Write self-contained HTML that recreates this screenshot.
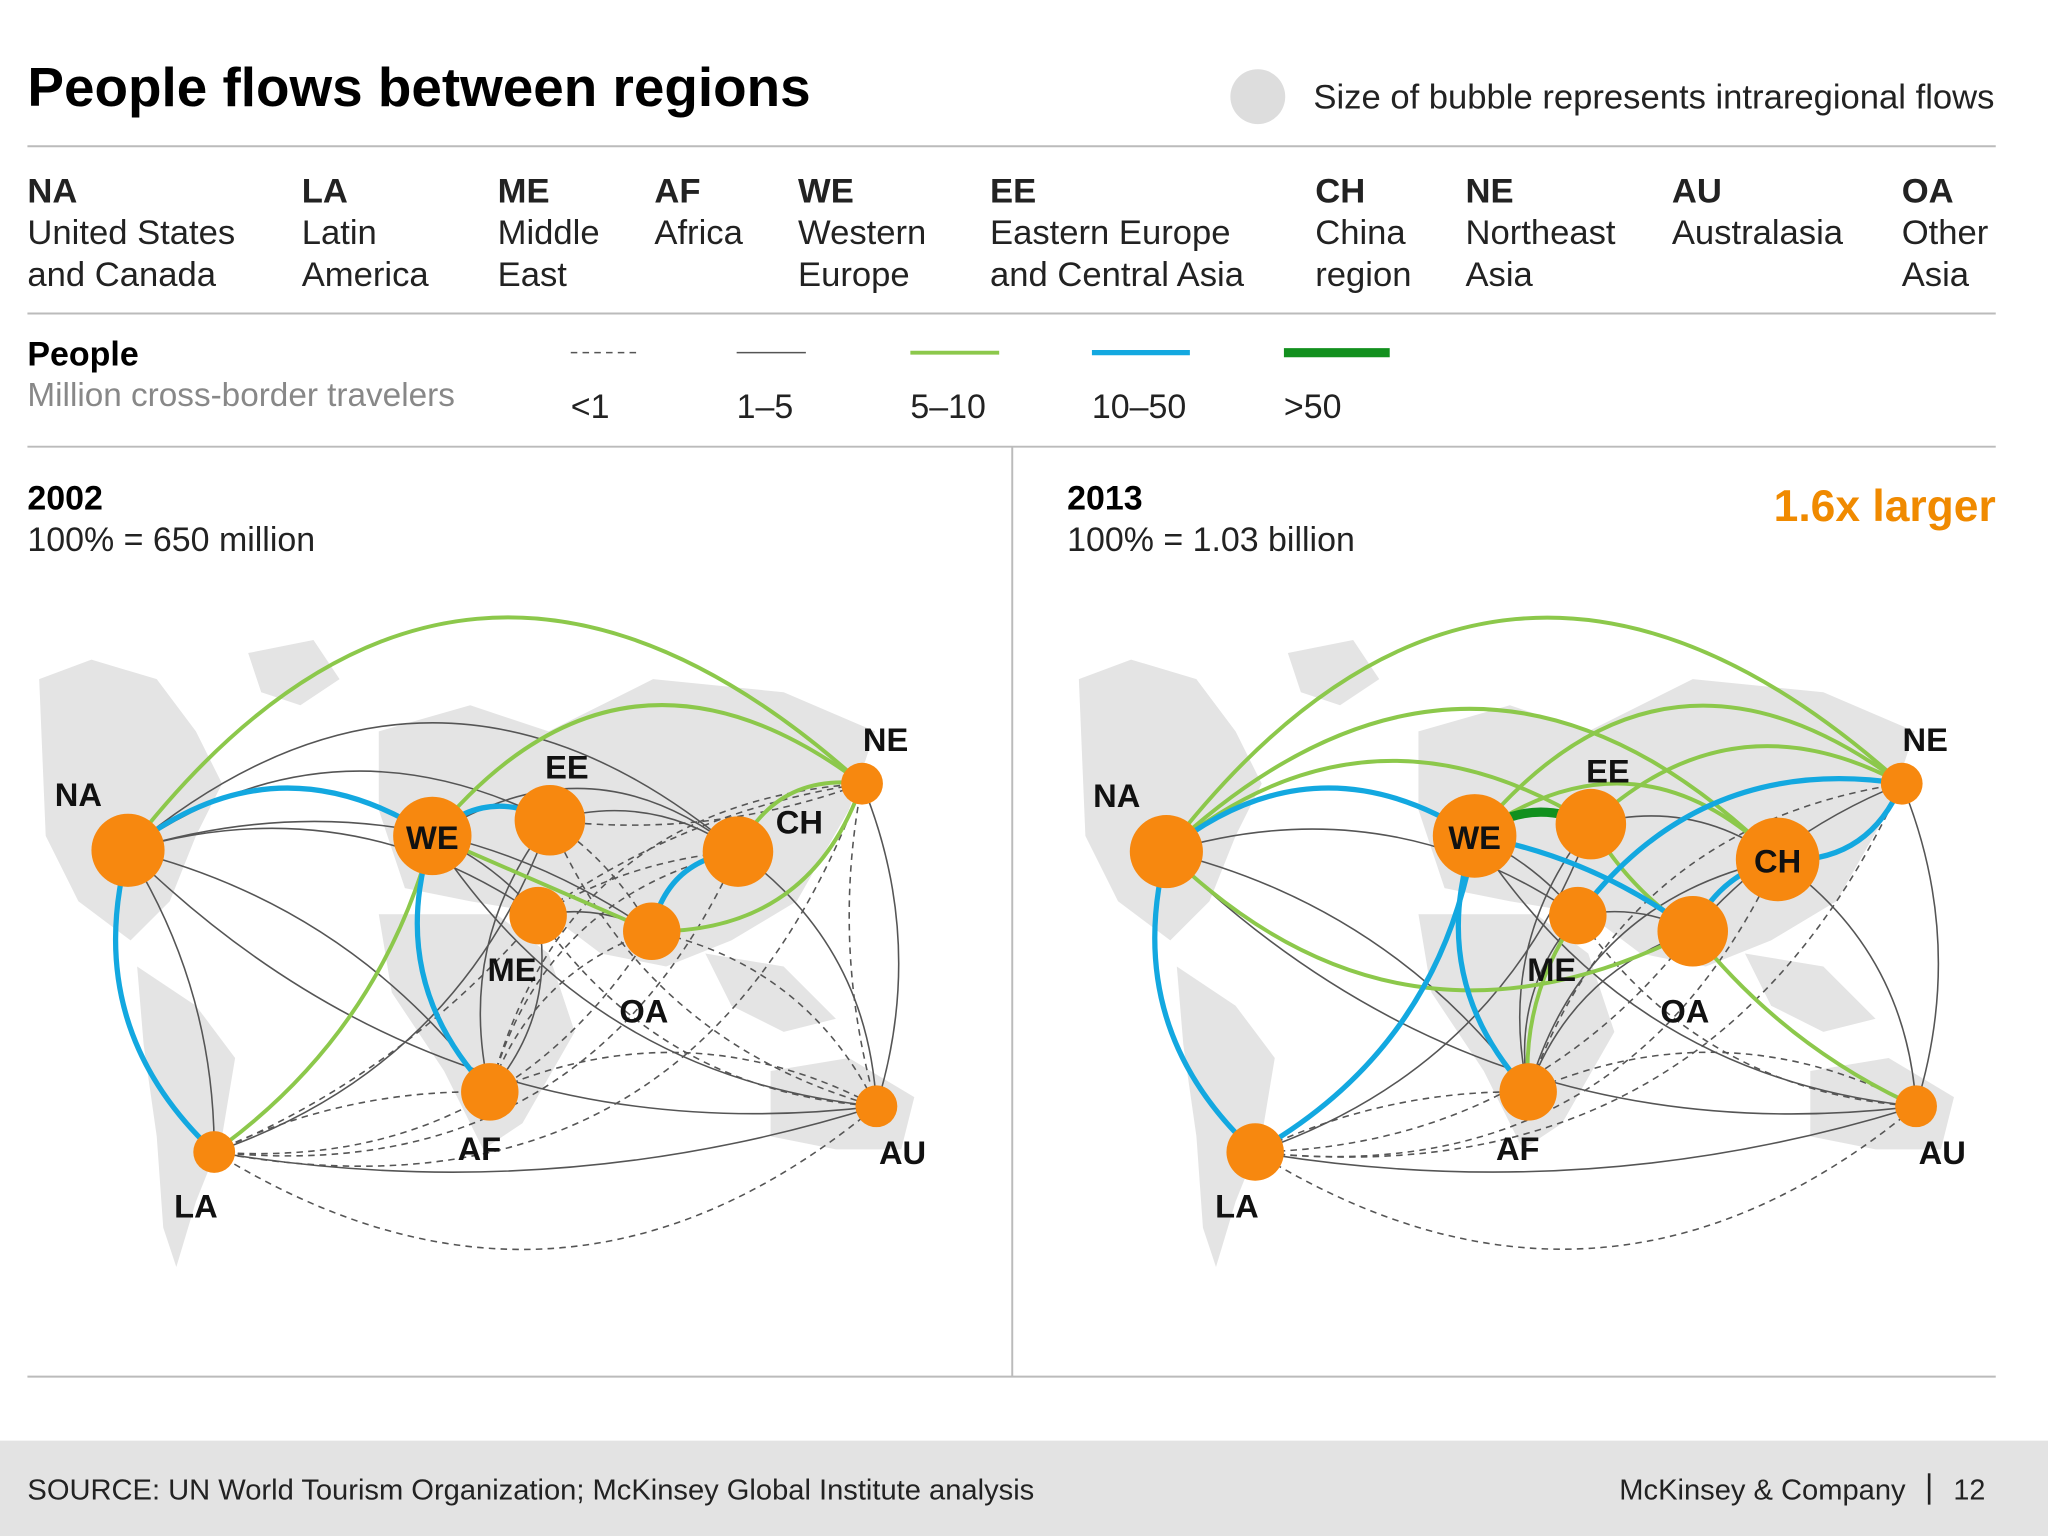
<!DOCTYPE html>
<html><head><meta charset="utf-8"><style>
html,body{margin:0;padding:0;background:#fff}
svg{display:block}
text{font-family:"Liberation Sans",Arial,sans-serif}
</style></head><body>
<svg id="chart" width="2048" height="1536" viewBox="0 0 1568 1176" xmlns="http://www.w3.org/2000/svg">
<text x="21" y="81" font-size="42" font-weight="bold" fill="#000">People flows between regions</text>
<circle cx="963" cy="74" r="21" fill="#ddd"/>
<text x="1527" y="83" font-size="26.5" text-anchor="end" fill="#222">Size of bubble represents intraregional flows</text>
<line x1="21" y1="112" x2="1528" y2="112" stroke="#bbb" stroke-width="1.5"/>
<g id="regions" font-size="26.5" fill="#222"></g>
<line x1="21" y1="240" x2="1528" y2="240" stroke="#bbb" stroke-width="1.5"/>
<text x="21" y="280" font-size="26" font-weight="bold">People</text>
<text x="21" y="311" font-size="25.5" fill="#888">Million cross-border travelers</text>
<g id="legend"></g>
<line x1="21" y1="342" x2="1528" y2="342" stroke="#bbb" stroke-width="1.5"/>
<line x1="775" y1="342" x2="775" y2="1054" stroke="#bbb" stroke-width="1.5"/>
<line x1="21" y1="1054" x2="1528" y2="1054" stroke="#bbb" stroke-width="1.5"/>
<text x="21" y="390" font-size="26" font-weight="bold">2002</text>
<text x="21" y="422" font-size="26" fill="#222">100% = 650 million</text>
<text x="817" y="390" font-size="26" font-weight="bold">2013</text>
<text x="817" y="422" font-size="26" fill="#222">100% = 1.03 billion</text>
<text x="1528" y="399" font-size="34" font-weight="bold" fill="#f08a00" text-anchor="end">1.6x larger</text>
<g id="map2002"></g>
<g id="map2013"></g>
<rect x="0" y="1103" width="1568" height="73" fill="#e3e3e3"/>
<text x="21" y="1148" font-size="22.3" fill="#222">SOURCE: UN World Tourism Organization; McKinsey Global Institute analysis</text>
<text x="1459" y="1148" font-size="22.3" fill="#222" text-anchor="end">McKinsey &amp; Company</text>
<line x1="1477" y1="1128" x2="1477" y2="1152" stroke="#222" stroke-width="2"/>
<text x="1520" y="1148" font-size="22" fill="#222" text-anchor="end">12</text>
</svg>
<script>
const NS="http://www.w3.org/2000/svg";
function mk(tag,attrs,parent){const e=document.createElementNS(NS,tag);for(const k in attrs)e.setAttribute(k,attrs[k]);parent.appendChild(e);return e;}

const regionCodes=["NA","LA","ME","AF","WE","EE","CH","NE","AU","OA"];
const regionNames=[["United States","and Canada"],["Latin","America"],["Middle","East"],["Africa"],["Western","Europe"],["Eastern Europe","and Central Asia"],["China","region"],["Northeast","Asia"],["Australasia"],["Other","Asia"]];
const regionX=[21,231,381,501,611,758,1007,1122,1280,1456];
const rg=document.getElementById('regions');
regionCodes.forEach((c,i)=>{
  const t=mk('text',{x:regionX[i],y:155,'font-weight':'bold'},rg);t.textContent=c;
  
  
  regionNames[i].forEach((n,j)=>{const s=mk('text',{x:regionX[i],y:187+j*32},rg);s.textContent=n;
    
    });
});

const catLabels=["<1","1–5","5–10","10–50",">50"];
const catStyle=[{stroke:"#555",w:1.2,dash:"5 4"},{stroke:"#555",w:1.2,dash:""},{stroke:"#8cc84b",w:3,dash:""},{stroke:"#13a8e0",w:4,dash:""},{stroke:"#12901e",w:7,dash:""}];
const legX=[437,564,697,836,983];
const lg=document.getElementById('legend');
catLabels.forEach((l,i)=>{
  const s=catStyle[i];
  const ln=mk('line',{x1:legX[i],y1:270,x2:legX[i]+(i<2?53:i==2?68:i==3?75:81),y2:270,stroke:s.stroke,'stroke-width':s.w,'stroke-dasharray':s.dash},lg);
  
  
  const t=mk('text',{x:legX[i],y:320,'font-size':26,fill:'#222'},lg);t.textContent=l;
  
  
});

const nodes2002={NA:[98,651,28],LA:[164,882,16],WE:[331,640,30],EE:[421,628,27],ME:[412,701,22],OA:[499,713,22],CH:[565,652,27],NE:[660,600,16],AF:[375,836,22],AU:[671,847,16]};
const nodes2013={NA:[893,652,28],LA:[961,882,22],WE:[1129,640,32],EE:[1218,631,27],ME:[1208,701,22],OA:[1296,713,27],CH:[1361,658,32],NE:[1456,600,16],AF:[1170,836,22],AU:[1467,847,16]};
const labelOff={NA:[-38,-34],LA:[-14,50],WE:[0,12],EE:[13,-32],ME:[-20,50],OA:[-6,70],CH:[47,-14],NE:[18,-25],AF:[-8,52],AU:[20,44]};
// flows: [from,to,category,bend]
const flows2002=[
 ["LA","NA",3,0.25],["NA","WE",3,0.3],["WE","AF",3,-0.25],["WE","EE",3,0.3],["OA","CH",3,0.3],
 ["NA","NE",2,0.45],["WE","NE",2,0.4],["WE","OA",2,0],["LA","WE",2,-0.15],["OA","NE",2,-0.3],["CH","NE",2,0.3],
 ["NA","CH",1,0.35],["NA","EE",1,0.25],["NA","ME",1,0.2],["NA","OA",1,0.2],["NA","AF",1,0.15],["NA","AU",1,-0.2],["NA","LA",1,0.12],["WE","CH",1,0.3],["WE","ME",1,0.1],["EE","CH",1,0.2],["WE","AU",1,-0.2],["ME","OA",1,0.15],["LA","AU",1,-0.1],["EE","AF",1,-0.2],["ME","AF",1,0.2],["NE","AU",1,0.15],["CH","AU",1,0.2],["LA","EE",1,-0.2],
 ["LA","ME",0,-0.1],["LA","OA",0,-0.25],["LA","CH",0,-0.3],["LA","NE",0,-0.35],["LA","AF",0,0.1],["AF","OA",0,0.2],["AF","CH",0,0.25],["AF","NE",0,0.3],["AF","AU",0,0.2],["EE","NE",0,-0.1],["EE","OA",0,0.1],["ME","NE",0,0.1],["ME","AU",0,-0.2],["OA","AU",0,0.2],["EE","AU",0,-0.2],["ME","CH",0,0.1],["NE","AU",0,-0.1],["LA","AU",0,-0.3]
];
const flows2013=[
 ["LA","NA",3,0.25],["NA","WE",3,0.3],["WE","AF",3,-0.25],["WE","OA",3,0.1],["LA","WE",3,-0.2],["CH","NE",3,-0.3],["OA","CH",3,0.2],["ME","NE",3,0.25],
 ["WE","EE",4,0.25],
 ["NA","NE",2,0.45],["NA","CH",2,0.4],["NA","EE",2,0.3],["NA","OA",2,-0.3],["WE","CH",2,0.35],["EE","NE",2,0.3],["OA","AU",2,-0.1],["AF","ME",2,0.15],["WE","NE",2,0.4],["EE","OA",2,-0.1],
 ["NA","ME",1,0.2],["NA","AF",1,0.15],["NA","AU",1,-0.2],["LA","EE",1,-0.2],["WE","ME",1,0.1],["EE","CH",1,0.2],["WE","AU",1,-0.2],["ME","OA",1,0.15],["LA","AU",1,-0.1],["ME","AF",1,-0.2],["NE","AU",1,0.15],["CH","AU",1,0.2],["AF","CH",1,0.25],["AF","OA",1,0.2],["EE","AF",1,-0.2],["OA","NE",1,0.1],
 ["LA","OA",0,-0.2],["LA","NE",0,-0.3],["LA","AF",0,0.1],["AF","AU",0,0.2],["ME","AU",0,-0.2],["LA","AU",0,-0.3],["AF","NE",0,0.25],["LA","CH",0,-0.3]
];
const bendScale=1.2;

function drawContinents(g,ox){
  const shapes=[
    "M30,520 L70,505 L120,520 L150,560 L170,600 L150,640 L130,690 L100,720 L60,690 L35,640 Z",
    "M105,740 L150,770 L180,810 L170,870 L150,920 L135,970 L125,940 L120,870 L110,800 Z",
    "M190,500 L240,490 L260,520 L230,540 L200,530 Z",
    "M290,560 L360,540 L420,560 L500,520 L600,530 L670,560 L650,620 L610,690 L560,720 L510,740 L460,730 L420,700 L360,690 L310,680 L290,620 Z",
    "M290,700 L380,700 L420,730 L440,790 L400,860 L370,880 L340,820 L300,760 Z",
    "M540,730 L600,740 L640,780 L600,790 L560,770 Z",
    "M590,820 L650,810 L700,840 L690,880 L640,880 L590,870 Z"
  ];
  shapes.forEach((d,i)=>{const p=mk('path',{d:d,fill:'#e4e4e4',transform:'translate('+ox+',0)'},g);
    
    });
}

function drawMap(gid,nodes,flows,ox){
  const g=document.getElementById(gid);
  drawContinents(g,ox);
  [0,1,2,3,4].forEach(cat=>{
    flows.filter(f=>f[2]===cat).forEach(f=>{
      const a=nodes[f[0]],b=nodes[f[1]],s=catStyle[cat];
      const mx=(a[0]+b[0])/2,my=(a[1]+b[1])/2,dx=b[0]-a[0],dy=b[1]-a[1];
      const k=f[3]*bendScale;
      const cx=mx+dy*k,cy=my-dx*k;
      const p=mk('path',{d:`M${a[0]},${a[1]} Q${cx},${cy} ${b[0]},${b[1]}`,fill:'none',stroke:s.stroke,'stroke-width':s.w,'stroke-dasharray':s.dash},g);
      
      
    });
  });
  Object.keys(nodes).forEach(k=>{
    const n=nodes[k];
    const c=mk('circle',{cx:n[0],cy:n[1],r:n[2],fill:'#f7880f'},g);
    
    
    const inside=(k==="WE")||(gid==="map2013"&&k==="CH");
    const o=inside?[0,10]:labelOff[k];
    const t=mk('text',{x:n[0]+o[0],y:n[1]+o[1],'font-size':25,'font-weight':'bold','text-anchor':'middle',fill:'#111'},g);
    t.textContent=k;
    
    
  });
}
drawMap('map2002',nodes2002,flows2002,0);
drawMap('map2013',nodes2013,flows2013,796);
</script>
</body></html>
